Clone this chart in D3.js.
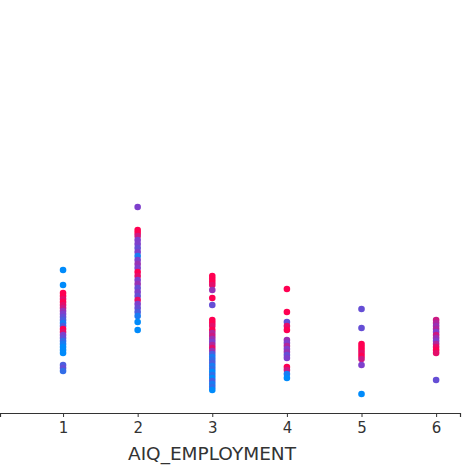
<!DOCTYPE html>
<html>
<head>
<meta charset="utf-8">
<script src="https://cdn.jsdelivr.net/npm/d3@7"></script>
<style>
  body { margin: 0; background: #fff; }
  text { font-family: "DejaVu Sans", sans-serif; }
</style>
</head>
<body>
<div id="chart"></div>
<script>
// SHAP value / feature colour value (0 = low blue, 1 = high red) per category
let categories = [1, 2, 3, 4, 5, 6];
let tickLabels = ["1", "2", "3", "4", "5", "6"];

let employment1 = [[0.30,0],[0.15,0],[0.07,1],[0.04,1],[0.01,0.9],[-0.02,1],[-0.05,0.9],[-0.08,0.8],[-0.11,0.6],[-0.14,0.5],
  [-0.17,0.4],[-0.20,0.3],[-0.23,0.1],[-0.26,0.3],[-0.29,1],[-0.32,0.9],[-0.35,0.5],[-0.38,0.4],[-0.41,0.2],[-0.44,0.1],
  [-0.47,0],[-0.50,0],[-0.53,0],[-0.65,0.3],[-0.68,0.4],[-0.71,0.2]];
let employment2 = [[0.93,0.5],[0.70,1],[0.67,1],[0.64,0.8],[0.60,0.5],[0.56,0.5],[0.52,0.4],[0.48,0.5],[0.44,0.1],[0.40,0.5],
  [0.36,0.6],[0.32,0.5],[0.28,1],[0.24,0.9],[0.20,0.5],[0.16,0.6],[0.12,0.4],[0.08,0.5],[0.04,0.4],[0.0,0.9],
  [-0.04,0.5],[-0.08,0.4],[-0.12,0.3],[-0.16,0.1],[-0.22,0],[-0.30,0]];
let employment3 = [[0.24,1],[0.21,1],[0.18,1],[0.15,0.9],[0.10,0.6],[0.02,1],[-0.05,0.4],[-0.20,1],[-0.23,1],[-0.26,0.9],
  [-0.30,1],[-0.33,0.7],[-0.36,0.8],[-0.39,0.6],[-0.42,0.5],[-0.45,0.7],[-0.48,0.9],[-0.51,0.6],[-0.54,0.3],[-0.57,0.1],
  [-0.60,0.2],[-0.63,0.3],[-0.66,0.1],[-0.69,0.2],[-0.72,0],[-0.75,0.2],[-0.78,0],[-0.81,0.3],[-0.84,0.1],[-0.87,0.2],[-0.90,0]];
let employment4 = [[0.11,1],[-0.12,1],[-0.22,0.4],[-0.26,0.9],[-0.30,1],[-0.40,0.6],[-0.43,0.5],[-0.46,0.7],[-0.49,0.5],
  [-0.52,0.6],[-0.55,0.4],[-0.58,0.5],[-0.67,1],[-0.70,0.8],[-0.74,0.1],[-0.78,0]];
let employment5 = [[-0.09,0.4],[-0.28,0.4],[-0.44,1],[-0.47,1],[-0.50,1],[-0.53,0.9],[-0.56,1],[-0.59,0.8],[-0.65,0.5],[-0.94,0]];
let employment6 = [[-0.20,0.8],[-0.23,0.7],[-0.26,0.6],[-0.29,0.7],[-0.32,0.5],[-0.35,0.8],[-0.38,0.6],[-0.41,0.5],
  [-0.44,0.7],[-0.47,0.9],[-0.50,1],[-0.53,0.9],[-0.80,0.4]];

let series = [employment1, employment2, employment3, employment4, employment5, employment6];

let width = 474, height = 474;
let svg = d3.select("#chart").append("svg")
    .attr("width", width)
    .attr("height", height);

let xScale = d3.scaleLinear().domain([0.155, 6.32]).range([0, 460]);
let yScale = d3.scaleLinear().domain([-1.13, 3.0]).range([413, 0]);
let colorScale = d3.scaleLinear().domain([0, 0.5, 1])
    .range(["#008bfb", "#7e3fcc", "#ff0052"])
    .interpolate(d3.interpolateRgb);

let points = [];
series.forEach((s, i) => s.forEach(p => points.push({cat: categories[i], shap: p[0], val: p[1]})));

svg.append("g")
    .selectAll("circle")
    .data(points)
    .enter()
    .append("circle")
    .attr("cx", d => xScale(d.cat))
    .attr("cy", d => yScale(d.shap))
    .attr("r", 3.3)
    .attr("fill", d => colorScale(d.val));

let xAxis = d3.axisBottom(xScale)
    .tickValues(categories)
    .tickFormat((d, i) => tickLabels[i])
    .tickSizeOuter(0)
    .tickSize(4)
    .tickPadding(5);

let gx = svg.append("g")
    .attr("transform", "translate(0,413)")
    .call(xAxis);
gx.select(".domain").attr("stroke", "#333").attr("stroke-width", 1.2);
gx.selectAll(".tick line").attr("stroke", "#333");
gx.selectAll(".tick text").attr("fill", "#333").style("font-size", "15px");

svg.append("text")
    .attr("x", 212)
    .attr("y", 460)
    .attr("text-anchor", "middle")
    .attr("fill", "#333")
    .style("font-size", "18.5px")
    .text("AIQ_EMPLOYMENT");
</script>
</body>
</html>
